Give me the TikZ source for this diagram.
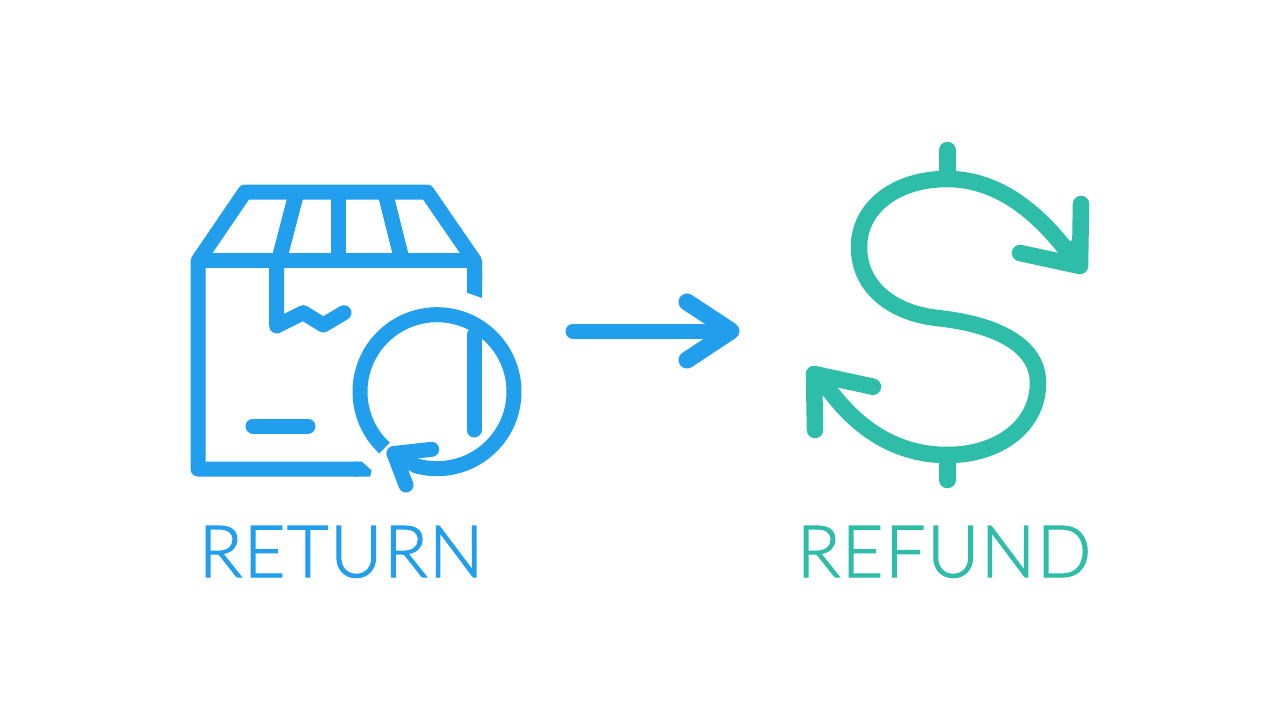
\documentclass[tikz,border=0pt]{standalone}
\usepackage{fontspec}
\setmainfont[LetterSpace=2.0,BoldFont={Lato Light},BoldFeatures={FakeBold=1.8}]{Lato Light}
\definecolor{retblue}{HTML}{229FEC}
\definecolor{refteal}{HTML}{2EBDA9}
\tikzset{
  iconline/.style={line width=15pt,line cap=round,line join=round},
  blueline/.style={iconline,draw=retblue},
  tealline/.style={iconline,draw=refteal,line width=16.5pt},
  label/.style={inner sep=0pt,anchor=base,font=\fontsize{72}{72}\selectfont\bfseries}
}
\begin{document}
\begin{tikzpicture}[x=1pt,y=-1pt]
\useasboundingbox (0,0) rectangle (1280,720);
\fill[white] (0,0) rectangle (1280,720);
% box
\draw[blueline,line cap=butt] (358,469) -- (198,469) -- (198,261) -- (245,192) -- (427,192) -- (474.5,261) -- (474.5,285);
\fill[retblue] (355,461.5) -- (361.7,461.5) -- (371.7,470.5) -- (370,476.5) -- (355,476.5) -- cycle;
\fill[retblue] (467,270) -- (482,270) -- (482,298) -- (467,292.7) -- cycle;
\draw[blueline,line cap=butt] (198,260.5) -- (474.5,260.5);
\draw[blueline,line cap=butt,line width=15.5pt] (296.7,192) -- (279,260);
\draw[blueline,line cap=butt] (338,192) -- (338,260);
\draw[blueline,line cap=butt,line width=15.5pt] (385,192) -- (402,260);
% tape
\draw[blueline] (276.7,260) -- (276.7,326) -- (303.3,312.7) -- (323.3,325) -- (344,312.7);
% label line
\draw[blueline] (253,426) -- (308,426);
% return circle
\draw[blueline,line cap=butt] ([shift={(437,391.7)}]133:77) arc[start angle=133,end angle=468,radius=77];
\draw[blueline] (474,335) -- (474,430);
\draw[blueline] (431.7,449.3) -- (394,453.5) -- (406,485);
\draw[blueline] (394,453.5) -- (413,464);
% arrow
\coordinate (arrowstart) at (573,331);
\coordinate (arrowtip) at (731,331);
\draw[iconline,draw=retblue] (arrowstart) -- (arrowtip);
\draw[iconline,draw=retblue,line width=17pt] (687,302) -- (arrowtip) -- (687,360);
% dollar
\draw[tealline] (947.3,150) -- (947.3,178);
\draw[tealline] (947.3,455) -- (947.3,480);
\draw[tealline] (1076,263) .. controls (1042,215) and (1000,179) .. (947,179)
  .. controls (895,179) and (859,208) .. (859,247)
  .. controls (859,288) and (893,313) .. (937,318)
  .. controls (985,323) and (1038,340) .. (1038,383)
  .. controls (1038,425) and (1000,455) .. (947,455)
  .. controls (900,455) and (855,432) .. (819,375);
\draw[tealline] (1081,204) -- (1080,266) -- (1020,253);
\draw[tealline] (815,430) -- (814,374) -- (873,386.7);
\fill[refteal] (1072,240) -- (1057,252) -- (1080,266) -- cycle;
\fill[refteal] (823.3,396.7) -- (835,386.7) -- (814,374) -- cycle;
% text
\node[label,text=retblue] (returntext) at (341,577) {RETURN};
\node[label,text=refteal] (refundtext) at (944,577) {REFUND};
\end{tikzpicture}
\end{document}
